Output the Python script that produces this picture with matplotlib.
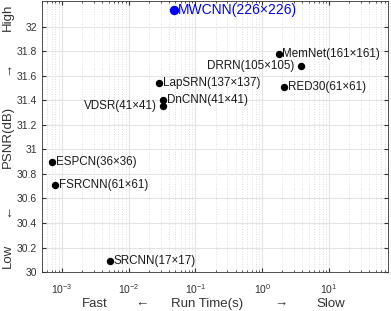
import matplotlib.pyplot as plt
import numpy as np
from matplotlib.ticker import LogLocator, NullFormatter

plt.rcParams['font.family'] = ['Liberation Sans', 'DejaVu Sans']

# methods, run time (s) and PSNR (dB)
names = ['SRCNN(17×17)', 'FSRCNN(61×61)', 'ESPCN(36×36)', 'VDSR(41×41)',
         'DnCNN(41×41)', 'LapSRN(137×137)', 'RED30(61×61)', 'DRRN(105×105)',
         'MemNet(161×161)']
times = [0.0052, 0.0008, 0.00072, 0.033, 0.033, 0.0287, 2.15, 3.8, 1.75]
psnr = [30.09, 30.71, 30.90, 31.35, 31.40, 31.54, 31.51, 31.68, 31.78]
left_side = ['VDSR(41×41)', 'DRRN(105×105)']

ours_name = 'MWCNN(226×226)'
ours_time = 0.047
ours_psnr = 32.14

fig = plt.figure(figsize=(3.91, 3.11), dpi=100)
ax = fig.add_axes([0.107, 0.125, 0.885, 0.872])

ax.plot(times, psnr, 'o', color='black', ms=4.3, ls='none')
for n, t, p in zip(names, times, psnr):
    if n in left_side:
        ax.text(t / 1.25, p, n, ha='right', va='center', fontsize=8.4, color='#1a1a1a')
    else:
        ax.text(t * 1.12, p, n, ha='left', va='center', fontsize=8.4, color='#1a1a1a')

ax.plot([ours_time], [ours_psnr], 'o', color='blue', ms=5.8)
ax.text(ours_time * 1.14, ours_psnr, ours_name, ha='left', va='center',
        fontsize=10, color='blue')

ax.set_xscale('log')
ax.set_xlim(5e-4, 76)
ax.set_ylim(30, 32.21)
ax.set_yticks(np.arange(30, 32.01, 0.2))
ax.set_yticklabels(['30', '30.2', '30.4', '30.6', '30.8', '31', '31.2', '31.4',
                    '31.6', '31.8', '32'])
ax.xaxis.set_minor_locator(LogLocator(base=10, subs=np.arange(2, 10), numticks=20))
ax.xaxis.set_minor_formatter(NullFormatter())

ax.grid(True, which='major', color='#e3e3e3', lw=0.8)
ax.grid(True, which='minor', axis='x', color='#d4d4d4', lw=0.6, ls=(0, (1, 2)))
ax.set_axisbelow(True)
ax.tick_params(which='both', direction='in', top=True, right=True,
               labelsize=7.5, labelcolor='#333333', color='#333333')
ax.tick_params(which='major', length=3)
ax.tick_params(which='minor', length=1.6)
ax.tick_params(axis='x', which='major', pad=7)
for s in ax.spines.values():
    s.set_color('#333333')
    s.set_linewidth(0.6)

# axis labels with arrows (y label is rotated, so → points up and ← points down)
lab = dict(fontsize=9.5, color='#333333', ha='center', va='center')
for txt, px in [('Fast', 95), ('←', 142), ('Run Time(s)', 207), ('→', 281), ('Slow', 331)]:
    fig.text(px / 391, 1 - 304 / 311, txt, **lab)
for txt, py in [('High', 17), ('→', 68), ('PSNR(dB)', 137), ('←', 210), ('Low', 256)]:
    fig.text(8 / 391, 1 - py / 311, txt, rotation=90, **lab)

fig.savefig('out.png', dpi=100)
